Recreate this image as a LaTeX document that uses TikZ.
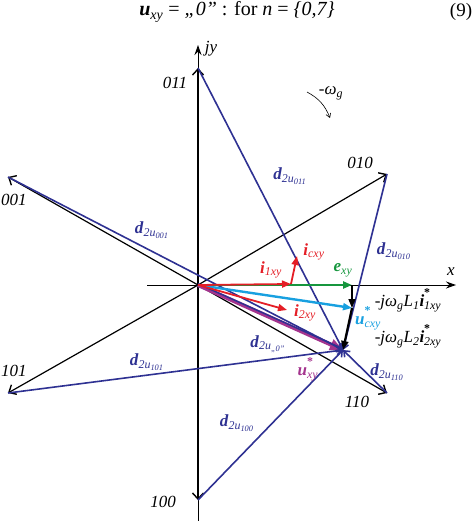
\documentclass[tikz,border=0pt]{standalone}
\usepackage{fontspec}
\setmainfont{Liberation Serif}
\usetikzlibrary{arrows.meta}
\definecolor{dnavy}{RGB}{46,49,146}
\definecolor{ired}{RGB}{228,30,38}
\definecolor{egreen}{RGB}{22,150,62}
\definecolor{ucyan}{RGB}{24,160,224}
\definecolor{upurple}{RGB}{164,52,142}
\newcommand{\dlab}[1]{\textbf{\textit{d}}\textsubscript{\textit{2u}\textsubscript{\textit{#1}}}}
\newcommand{\supsub}[2]{\rlap{\raisebox{0.5ex}{\textsuperscript{\textbf{*}}}}\textsubscript{#2}}

\begin{document}
\begin{tikzpicture}[x=1pt, y=-1pt, every node/.style={font=\fontsize{17}{19}\selectfont, inner sep=0pt},
  axis/.style={line width=1pt, -{Stealth[length=10pt,width=7pt]}},
  vec/.style={line width=1.2pt, -{Straight Barb[length=6pt,width=11pt,line width=1.4pt]}},
  dline/.style={dnavy, line width=1.6pt, -{Straight Barb[length=5pt,width=8pt]}},
  fill arrow/.style={-{Triangle[length=9pt,width=7pt]}}]
\useasboundingbox (0,0) rectangle (474,521);
% equation line
\node[font=\fontsize{20}{22}\selectfont] (eq) at (237,12) {{\bfseries\itshape u}\textsubscript{\textit{xy}} = \textit{„0”} : for \textit{n} = \textit{\{0,7\}}};
\node[font=\fontsize{19}{21}\selectfont] (eqnum) at (461,12) {(9)};
% points
\coordinate (O) at (198,285);
\coordinate (xl) at (147,285);
\coordinate (xr) at (456,285);
\coordinate (yb) at (198,521);
\coordinate (yt) at (198,45);
\coordinate (v011) at (198,68);
\coordinate (v010) at (387,174);
\coordinate (v001) at (8,177);
\coordinate (v101) at (8,393);
\coordinate (v100) at (198,500);
\coordinate (v110) at (387,393);
\coordinate (P) at (343,350);
\coordinate (E) at (352,285);
\coordinate (C) at (352,308);
\coordinate (I1) at (291,284);
\coordinate (Ic) at (297,256);
\coordinate (I2) at (287,310);
% axes
\draw[axis] (xl) -- (xr);
\draw[axis] (yb) -- (yt);
\node (xlab) at (451,272) {\textit{x}};
\node (ylab) at (211,49) {\textit{jy}};
% switching vectors
\foreach \v in {011,010,001,101,100,110}
  \draw[vec] (O) -- (v\v);
\node (l011) at (175,83) {\textit{011}};
\node (l010) at (360,163) {\textit{010}};
\node (l001) at (14,200) {\textit{001}};
\node (l101) at (14,371) {\textit{101}};
\node (l100) at (163,502) {\textit{100}};
\node (l110) at (357,402) {\textit{110}};
% rotation
\draw[-{Straight Barb[length=4pt,width=5pt]}, line width=0.6pt] (307,92) to[bend left=20] (330,118);
\node (omg) at (331,93) {-\textit{ω}\textsubscript{\textit{g}}};
% reference vector
\draw[upurple, line width=4pt, -{Triangle[length=13pt,width=11pt]}] (O) -- (P);
\draw[dnavy, line width=1.4pt] ([yshift=1.2pt]O) -- ([yshift=1.2pt]P);
% distances
\foreach \v in {011,010,001,101,100,110}
  \draw[dline] (v\v) -- (P);
\node[dnavy] (d011) at (290,176) {\dlab{011}};
\node[dnavy] (d010) at (394,251) {\dlab{010}};
\node[dnavy] (d001) at (152,230) {\dlab{001}};
\node[dnavy] (d101) at (147,362) {\dlab{101}};
\node[dnavy] (d100) at (237,423) {\dlab{100}};
\node[dnavy] (d110) at (387,372) {\dlab{110}};
\node[dnavy] (d0) at (268,344) {\textbf{\textit{d}}\textsubscript{\textit{2u}\textsubscript{\textit{„0”}}}};
\node[upurple] (uxy) at (308,369) {\textbf{\textit{u}}\supsub{*}{\textit{xy}}};
% grid side
\draw[egreen, line width=2.4pt, fill arrow] (O) -- (E);
\node[egreen] (exy) at (343,270) {\textbf{\textit{e}}\textsubscript{\textit{xy}}};
\draw[ucyan, line width=2.4pt, fill arrow] (O) -- (C);
\node[ucyan] (ucxy) at (368,318) {\textbf{\textit{u}}\supsub{*}{\textit{cxy}}};
% currents
\draw[ired, line width=1.8pt, fill arrow] (O) -- (I1);
\draw[ired, line width=1.8pt, fill arrow] (I1) -- (Ic);
\draw[ired, line width=1.8pt, fill arrow] (O) -- (I2);
\node[ired] (i1) at (271,270) {\textbf{\textit{i}}\textsubscript{\textit{1xy}}};
\node[ired] (ic) at (314,252) {\textbf{\textit{i}}\textsubscript{\textit{cxy}}};
\node[ired] (i2) at (305,313) {\textbf{\textit{i}}\textsubscript{\textit{2xy}}};
% voltage drops
\draw[line width=1.6pt, fill arrow] (E) -- (C);
\draw[line width=2.2pt, fill arrow] (C) -- (P);
\node (dl1) at (408,300) {-\textit{jω}\textsubscript{\textit{g}}\textit{L}\textsubscript{\textit{1}}\textbf{\textit{i}}\supsub{*}{\textit{1xy}}};
\node (dl2) at (408,336) {-\textit{jω}\textsubscript{\textit{g}}\textit{L}\textsubscript{\textit{2}}\textbf{\textit{i}}\supsub{*}{\textit{2xy}}};
\end{tikzpicture}
\end{document}
